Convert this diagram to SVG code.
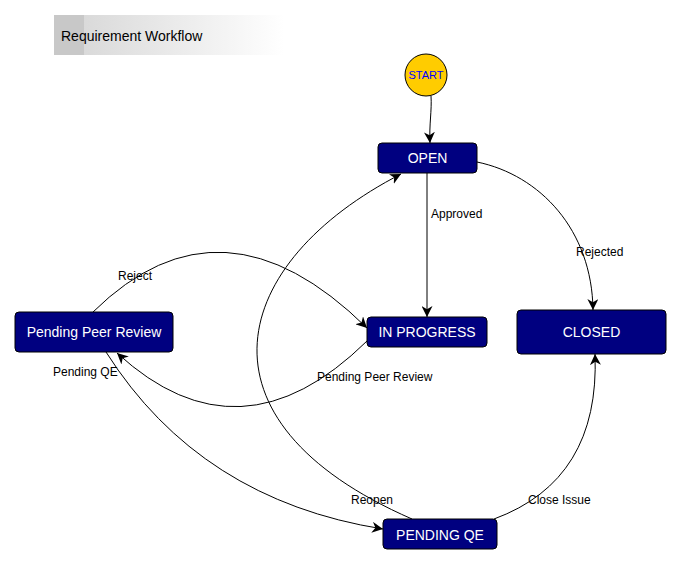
<svg xmlns="http://www.w3.org/2000/svg" width="681" height="565" viewBox="0 0 681 565">
<style>
.node rect{fill:#000080;stroke:#000000;stroke-width:1}
.nt{font-family:"Liberation Sans",Arial,sans-serif;font-size:14px;fill:#ffffff;text-anchor:middle}
.lbl{font-family:"Liberation Sans",Arial,sans-serif;font-size:12px;fill:#000000}
.edge{fill:none;stroke:#000000;stroke-width:1;marker-end:url(#arr)}
</style>
<defs>
<marker id="arr" viewBox="0 0 10 10" refX="10" refY="5" markerWidth="11" markerHeight="11" markerUnits="userSpaceOnUse" orient="auto">
<path d="M0,0 L10,5 L0,10 L3,5 z" fill="#000000"/>
</marker>
<linearGradient id="tg" x1="0" y1="0" x2="1" y2="0">
<stop offset="0" stop-color="#d4d4d4"/>
<stop offset="1" stop-color="#ffffff"/>
</linearGradient>
</defs>
<rect width="681" height="565" fill="#ffffff"/>
<g id="title">
<rect x="54" y="15" width="230" height="40" fill="url(#tg)"/>
<rect x="54" y="15" width="30" height="40" fill="#c8c8c8"/>
<text x="61" y="41" class="lbl" style="font-size:14px">Requirement Workflow</text>
</g>
<g id="connectors">
<path class="edge" d="M431,96 C432,110 429,125 430,143"/>
<path class="edge" d="M427,173 L427,317"/>
<path class="edge" d="M477,162 C540,175 592,230 593,310"/>
<path class="edge" d="M93,312 Q222,185 367,328"/>
<path class="edge" d="M367,341 Q240,466 117,353"/>
<path class="edge" d="M106,352 Q200,500 383,529"/>
<path class="edge" d="M412,519 C185,420 230,262 401,174"/>
<path class="edge" d="M494,519 Q600,480 595,354"/>
<text class="lbl" x="431" y="218">Approved</text>
<text class="lbl" x="576" y="256">Rejected</text>
<text class="lbl" x="118" y="280">Reject</text>
<text class="lbl" x="317" y="381">Pending Peer Review</text>
<text class="lbl" x="53" y="376">Pending QE</text>
<text class="lbl" x="351" y="504">Reopen</text>
<text class="lbl" x="528" y="504">Close Issue</text>
</g>
<g id="start">
<circle cx="426" cy="75" r="21" fill="#ffcc00" stroke="#000000" stroke-width="1"/>
<text x="426" y="79" style="font-family:'Liberation Sans',Arial,sans-serif;font-size:11px;fill:#0000ff;text-anchor:middle">START</text>
</g>
<g id="open" class="node">
<rect x="378" y="143" width="99" height="30" rx="4"/>
<text class="nt" x="427.5" y="163">OPEN</text>
</g>
<g id="inprogress" class="node">
<rect x="367" y="317" width="120" height="30" rx="4"/>
<text class="nt" x="427" y="337">IN PROGRESS</text>
</g>
<g id="closed" class="node">
<rect x="517" y="310" width="149" height="44" rx="4"/>
<text class="nt" x="591.5" y="337">CLOSED</text>
</g>
<g id="peerreview" class="node">
<rect x="15" y="312" width="158" height="40" rx="4"/>
<text class="nt" x="94" y="337">Pending Peer Review</text>
</g>
<g id="pendingqe" class="node">
<rect x="383" y="519" width="114" height="30" rx="4"/>
<text class="nt" x="440" y="540">PENDING QE</text>
</g>
</svg>
